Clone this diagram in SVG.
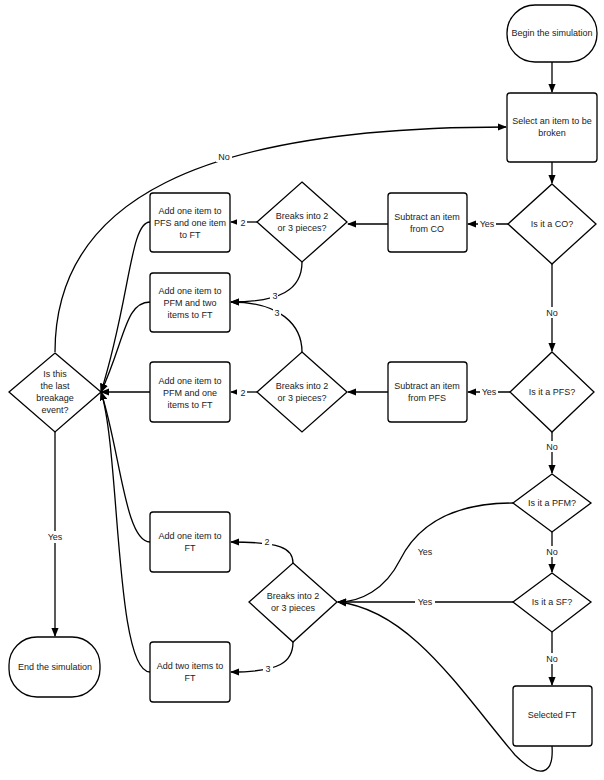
<svg xmlns="http://www.w3.org/2000/svg" width="604" height="780" viewBox="0 0 604 780">
<style>
.s{fill:#fff;stroke:#000;stroke-width:1.3}
.c{fill:none;stroke:#000;stroke-width:1.3}
text{font-family:"Liberation Sans",Arial,sans-serif;font-size:9px;text-anchor:middle;fill:#222}
.l{font-size:9px}
.bg{fill:#fff}
</style>
<defs><marker id="a" viewBox="0 0 10 10" refX="9" refY="5" markerWidth="7" markerHeight="7" orient="auto-start-reverse"><path d="M0,1L10,5L0,9z" fill="#000"/></marker></defs>
<rect width="604" height="780" fill="#fff"/>
<g id="connectors">
<path class="c" d="M552,62V92" marker-end="url(#a)"/>
<path class="c" d="M552,162V183" marker-end="url(#a)"/>
<path class="c" d="M508,224H468" marker-end="url(#a)"/>
<path class="c" d="M388,224H348" marker-end="url(#a)"/>
<path class="c" d="M257,222H231" marker-end="url(#a)"/>
<path class="c" d="M302,262C302,290 280,302 231,302" marker-end="url(#a)"/>
<path class="c" d="M302,352C302,325 280,302 231,302" marker-end="url(#a)"/>
<path class="c" d="M552,264V351" marker-end="url(#a)"/>
<path class="c" d="M510,392H468" marker-end="url(#a)"/>
<path class="c" d="M388,392H348" marker-end="url(#a)"/>
<path class="c" d="M257,392H231" marker-end="url(#a)"/>
<path class="c" d="M552,432V473" marker-end="url(#a)"/>
<path class="c" d="M552,532V572" marker-end="url(#a)"/>
<path class="c" d="M552,632V685" marker-end="url(#a)"/>
<path class="c" d="M513,503C460,503 420,520 400,560C385,590 360,602 338,602" marker-end="url(#a)"/>
<path class="c" d="M513,602H338" marker-end="url(#a)"/>
<path class="c" d="M552,746C554,775 540,780 515,755C460,690 410,610 338,602" marker-end="url(#a)"/>
<path class="c" d="M293,563C293,548 280,542 231,542" marker-end="url(#a)"/>
<path class="c" d="M293,642C293,662 280,672 231,672" marker-end="url(#a)"/>
<path class="c" d="M150,222C130,222 130,300 101,392" marker-end="url(#a)"/>
<path class="c" d="M150,302C125,302 125,340 101,392" marker-end="url(#a)"/>
<path class="c" d="M150,392H101" marker-end="url(#a)"/>
<path class="c" d="M150,542C125,542 120,450 101,392" marker-end="url(#a)"/>
<path class="c" d="M150,672C115,672 120,450 101,392" marker-end="url(#a)"/>
<path class="c" d="M55,352C55,200 200,127 506,127" marker-end="url(#a)"/>
<path class="c" d="M55,432V636" marker-end="url(#a)"/>
<rect class="bg" x="216" y="151" width="16" height="11"/><text x="224" y="160">No</text>
<rect class="bg" x="478" y="219" width="18" height="10"/><text x="487" y="227">Yes</text>
<rect class="bg" x="237" y="217" width="10" height="10"/><text x="243" y="226">2</text>
<rect class="bg" x="270" y="291" width="8" height="10"/><text x="275" y="299">3</text>
<rect class="bg" x="273" y="308" width="8" height="10"/><text x="277" y="316">3</text>
<rect class="bg" x="543" y="307" width="18" height="11"/><text x="552" y="316">No</text>
<rect class="bg" x="480" y="387" width="18" height="10"/><text x="489" y="395">Yes</text>
<rect class="bg" x="237" y="387" width="10" height="10"/><text x="243" y="396">2</text>
<rect class="bg" x="543" y="441" width="18" height="11"/><text x="552" y="450">No</text>
<rect class="bg" x="543" y="546" width="18" height="11"/><text x="552" y="555">No</text>
<rect class="bg" x="543" y="653" width="18" height="11"/><text x="552" y="662">No</text>
<rect class="bg" x="415" y="546" width="20" height="11"/><text x="425" y="555">Yes</text>
<rect class="bg" x="415" y="597" width="20" height="10"/><text x="425" y="605">Yes</text>
<rect class="bg" x="262" y="537" width="10" height="10"/><text x="267" y="545">2</text>
<rect class="bg" x="263" y="664" width="10" height="10"/><text x="268" y="672">3</text>
<rect class="bg" x="45" y="531" width="20" height="12"/><text x="55" y="540">Yes</text>
</g>
<g id="begin"><rect class="s" x="507" y="5" width="90" height="57" rx="28"/><text x="552" y="36">Begin the simulation</text></g>
<g id="select"><rect class="s" x="507" y="93" width="90" height="69" rx="3"/><text x="552" y="124">Select an item to be</text><text x="552" y="136">broken</text></g>
<g id="isCO"><path class="s" d="M552,184L596,224L552,264L508,224z"/><text x="552" y="227">Is it a CO?</text></g>
<g id="subCO"><rect class="s" x="388" y="193" width="79" height="59" rx="3"/><text x="427" y="220">Subtract an item</text><text x="427" y="232">from CO</text></g>
<g id="breaks1"><path class="s" d="M302,182L347,222L302,262L257,222z"/><text x="302" y="219">Breaks into 2</text><text x="302" y="231">or 3 pieces?</text></g>
<g id="addPFS"><rect class="s" x="150" y="193" width="80" height="59" rx="3"/><text x="190" y="214">Add one item to</text><text x="190" y="226">PFS  and one item</text><text x="190" y="238">to FT</text></g>
<g id="addPFM2"><rect class="s" x="150" y="273" width="80" height="59" rx="3"/><text x="190" y="294">Add one item to</text><text x="190" y="306">PFM  and two</text><text x="190" y="318">items to FT</text></g>
<g id="last"><path class="s" d="M55,353L101,392L55,432L9,392z"/><text x="55" y="377">Is this</text><text x="55" y="389">the last</text><text x="55" y="401">breakage</text><text x="55" y="413">event?</text></g>
<g id="addPFM1"><rect class="s" x="150" y="362" width="80" height="60" rx="3"/><text x="190" y="384">Add one item to</text><text x="190" y="396">PFM  and one</text><text x="190" y="408">items to FT</text></g>
<g id="breaks2"><path class="s" d="M302,352L347,392L302,432L257,392z"/><text x="302" y="389">Breaks into 2</text><text x="302" y="401">or 3 pieces?</text></g>
<g id="subPFS"><rect class="s" x="388" y="362" width="79" height="60" rx="3"/><text x="427" y="389">Subtract an item</text><text x="427" y="401">from PFS</text></g>
<g id="isPFS"><path class="s" d="M552,352L594,392L552,432L510,392z"/><text x="552" y="395">Is it a PFS?</text></g>
<g id="isPFM"><path class="s" d="M552,474L591,503L552,532L513,503z"/><text x="552" y="506">Is it a PFM?</text></g>
<g id="isSF"><path class="s" d="M552,573L591,602L552,632L513,602z"/><text x="552" y="605">Is it a SF?</text></g>
<g id="selFT"><rect class="s" x="513" y="686" width="79" height="60" rx="3"/><text x="552" y="718">Selected FT</text></g>
<g id="breaks3"><path class="s" d="M293,563L337,602L293,642L249,602z"/><text x="293" y="599">Breaks into 2</text><text x="293" y="611">or 3 pieces</text></g>
<g id="addFT1"><rect class="s" x="150" y="512" width="80" height="60" rx="3"/><text x="190" y="539">Add one item to</text><text x="190" y="551">FT</text></g>
<g id="addFT2"><rect class="s" x="150" y="642" width="80" height="60" rx="3"/><text x="190" y="669">Add two items to</text><text x="190" y="681">FT</text></g>
<g id="end"><rect class="s" x="9" y="637" width="91" height="60" rx="28"/><text x="55" y="670">End the simulation</text></g>
</svg>
